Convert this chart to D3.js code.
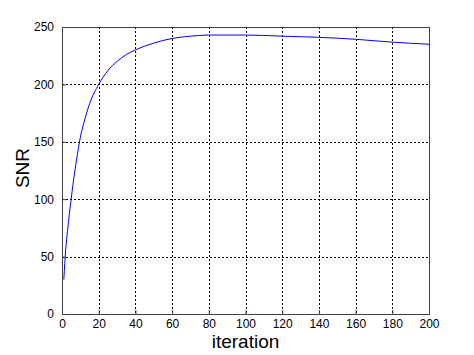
<!DOCTYPE html>
<html>
<head>
<meta charset="utf-8">
<script src="https://cdn.jsdelivr.net/npm/d3@7"></script>
<style>
  body { margin: 0; background: #fff; }
  text { font-family: Arial, "Liberation Sans", sans-serif; }
</style>
</head>
<body>
<div id="chart"></div>
<script>
// Data
const iterations = [1, 2, 3, 4, 5, 6, 8, 10, 12, 15, 20, 25, 30, 35, 40, 50, 60, 70, 80, 100, 120, 140, 160, 180, 200];
const snr = [30, 56, 72, 87, 100, 113, 135, 154, 167, 183, 200, 212, 220, 226, 230, 236, 240, 242, 243, 243, 242, 241, 239.3, 236.8, 235];
const xTicks = [0, 20, 40, 60, 80, 100, 120, 140, 160, 180, 200];
const yTicks = [0, 50, 100, 150, 200, 250];

const W = 474, H = 355;
const margin = { top: 27, right: 45, bottom: 41, left: 62 };
const width = W - margin.left - margin.right;
const height = H - margin.top - margin.bottom;

const svg = d3.select("#chart").append("svg")
    .attr("width", W)
    .attr("height", H)
  .append("g")
    .attr("transform", `translate(${margin.left},${margin.top})`);

const x = d3.scaleLinear().domain([0, 200]).range([0, width]);
const y = d3.scaleLinear().domain([0, 250]).range([height, 0]);

// grid
svg.append("g")
  .selectAll("line")
  .data(xTicks.slice(1, -1))
  .join("line")
    .attr("x1", d => Math.round(x(d)) + 0.5)
    .attr("x2", d => Math.round(x(d)) + 0.5)
    .attr("y1", 0)
    .attr("y2", height)
    .attr("stroke", "#000")
    .attr("stroke-dasharray", "2,2");

svg.append("g")
  .selectAll("line")
  .data(yTicks.slice(1, -1))
  .join("line")
    .attr("y1", d => Math.round(y(d)) + 0.5)
    .attr("y2", d => Math.round(y(d)) + 0.5)
    .attr("x1", 0)
    .attr("x2", width)
    .attr("stroke", "#000")
    .attr("stroke-dasharray", "2,2");

// axes
const xAxis = d3.axisBottom(x).tickValues(xTicks).tickSizeInner(-4).tickSizeOuter(0).tickPadding(5);
const yAxis = d3.axisLeft(y).tickValues(yTicks).tickSizeInner(-4).tickSizeOuter(0).tickPadding(8);

svg.append("g")
    .attr("transform", `translate(0,${height})`)
    .call(xAxis)
    .call(g => g.selectAll("text").attr("font-size", 12).attr("fill", "#000"));

svg.append("g")
    .call(yAxis)
    .call(g => g.selectAll("text").attr("font-size", 12).attr("fill", "#000"));

svg.selectAll(".domain").remove();
svg.selectAll(".tick line").attr("stroke", "#404040");

// frame
svg.append("rect")
    .attr("x", 0.5)
    .attr("y", 0.5)
    .attr("width", width)
    .attr("height", height)
    .attr("fill", "none")
    .attr("stroke", "#404040");

// curve
const line = d3.line()
  .x((d, i) => x(iterations[i]))
  .y(d => y(d))
  .curve(d3.curveMonotoneX);

svg.append("path")
    .datum(snr)
    .attr("fill", "none")
    .attr("stroke", "#0000ff")
    .attr("stroke-width", 1)
    .attr("d", line);

// labels
svg.append("text")
    .attr("x", width / 2)
    .attr("y", height + 34)
    .attr("text-anchor", "middle")
    .attr("font-size", 19)
    .text("iteration");

svg.append("text")
    .attr("transform", "rotate(-90)")
    .attr("x", -(141))
    .attr("y", -33)
    .attr("text-anchor", "middle")
    .attr("font-size", 19)
    .text("SNR");
</script>
</body>
</html>
